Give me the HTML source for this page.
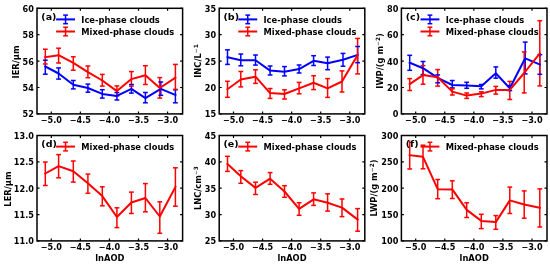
<!DOCTYPE html><html><head><meta charset="utf-8"><style>html,body{margin:0;padding:0;background:#fff;}svg{display:block;}text{font-family:"DejaVu Sans",sans-serif;font-weight:bold;}</style></head><body>
<svg width="550" height="265" viewBox="0 0 550 265">
<rect width="550" height="265" fill="#fff"/>
<g><line x1="45.3" y1="60.2" x2="45.3" y2="74.2" stroke="#0000ff" stroke-width="1.5"/><line x1="58.6" y1="67.9" x2="58.6" y2="79.1" stroke="#0000ff" stroke-width="1.5"/><line x1="73.3" y1="80.5" x2="73.3" y2="88.9" stroke="#0000ff" stroke-width="1.5"/><line x1="87.9" y1="84.1" x2="87.9" y2="92.2" stroke="#0000ff" stroke-width="1.5"/><line x1="102.3" y1="89.7" x2="102.3" y2="98.1" stroke="#0000ff" stroke-width="1.5"/><line x1="116.9" y1="92.5" x2="116.9" y2="100" stroke="#0000ff" stroke-width="1.5"/><line x1="131.4" y1="84.5" x2="131.4" y2="93.1" stroke="#0000ff" stroke-width="1.5"/><line x1="145.4" y1="92.5" x2="145.4" y2="102.8" stroke="#0000ff" stroke-width="1.5"/><line x1="160.8" y1="82" x2="160.8" y2="95.3" stroke="#0000ff" stroke-width="1.5"/><line x1="175.4" y1="89.7" x2="175.4" y2="102.8" stroke="#0000ff" stroke-width="1.5"/><line x1="45.3" y1="49.2" x2="45.3" y2="64" stroke="#ff0000" stroke-width="1.5"/><line x1="58.6" y1="48.2" x2="58.6" y2="63" stroke="#ff0000" stroke-width="1.5"/><line x1="73.3" y1="56.8" x2="73.3" y2="70.2" stroke="#ff0000" stroke-width="1.5"/><line x1="87.9" y1="66" x2="87.9" y2="77.7" stroke="#ff0000" stroke-width="1.5"/><line x1="102.3" y1="74.4" x2="102.3" y2="86.1" stroke="#ff0000" stroke-width="1.5"/><line x1="116.9" y1="85.9" x2="116.9" y2="95.9" stroke="#ff0000" stroke-width="1.5"/><line x1="131.4" y1="71.6" x2="131.4" y2="86.1" stroke="#ff0000" stroke-width="1.5"/><line x1="145.4" y1="65.7" x2="145.4" y2="84.5" stroke="#ff0000" stroke-width="1.5"/><line x1="159.8" y1="77.6" x2="159.8" y2="98.1" stroke="#ff0000" stroke-width="1.5"/><line x1="175.4" y1="64.4" x2="175.4" y2="89.4" stroke="#ff0000" stroke-width="1.5"/><line x1="42.9" y1="60.2" x2="47.7" y2="60.2" stroke="#0000ff" stroke-width="1.5"/><line x1="42.9" y1="74.2" x2="47.7" y2="74.2" stroke="#0000ff" stroke-width="1.5"/><line x1="56.2" y1="67.9" x2="61" y2="67.9" stroke="#0000ff" stroke-width="1.5"/><line x1="56.2" y1="79.1" x2="61" y2="79.1" stroke="#0000ff" stroke-width="1.5"/><line x1="70.9" y1="80.5" x2="75.7" y2="80.5" stroke="#0000ff" stroke-width="1.5"/><line x1="70.9" y1="88.9" x2="75.7" y2="88.9" stroke="#0000ff" stroke-width="1.5"/><line x1="85.5" y1="84.1" x2="90.3" y2="84.1" stroke="#0000ff" stroke-width="1.5"/><line x1="85.5" y1="92.2" x2="90.3" y2="92.2" stroke="#0000ff" stroke-width="1.5"/><line x1="99.9" y1="89.7" x2="104.7" y2="89.7" stroke="#0000ff" stroke-width="1.5"/><line x1="99.9" y1="98.1" x2="104.7" y2="98.1" stroke="#0000ff" stroke-width="1.5"/><line x1="114.5" y1="92.5" x2="119.3" y2="92.5" stroke="#0000ff" stroke-width="1.5"/><line x1="114.5" y1="100" x2="119.3" y2="100" stroke="#0000ff" stroke-width="1.5"/><line x1="129" y1="84.5" x2="133.8" y2="84.5" stroke="#0000ff" stroke-width="1.5"/><line x1="129" y1="93.1" x2="133.8" y2="93.1" stroke="#0000ff" stroke-width="1.5"/><line x1="143" y1="92.5" x2="147.8" y2="92.5" stroke="#0000ff" stroke-width="1.5"/><line x1="143" y1="102.8" x2="147.8" y2="102.8" stroke="#0000ff" stroke-width="1.5"/><line x1="158.4" y1="82" x2="163.2" y2="82" stroke="#0000ff" stroke-width="1.5"/><line x1="158.4" y1="95.3" x2="163.2" y2="95.3" stroke="#0000ff" stroke-width="1.5"/><line x1="173" y1="89.7" x2="177.8" y2="89.7" stroke="#0000ff" stroke-width="1.5"/><line x1="173" y1="102.8" x2="177.8" y2="102.8" stroke="#0000ff" stroke-width="1.5"/><line x1="42.9" y1="49.2" x2="47.7" y2="49.2" stroke="#ff0000" stroke-width="1.5"/><line x1="42.9" y1="64" x2="47.7" y2="64" stroke="#ff0000" stroke-width="1.5"/><line x1="56.2" y1="48.2" x2="61" y2="48.2" stroke="#ff0000" stroke-width="1.5"/><line x1="56.2" y1="63" x2="61" y2="63" stroke="#ff0000" stroke-width="1.5"/><line x1="70.9" y1="56.8" x2="75.7" y2="56.8" stroke="#ff0000" stroke-width="1.5"/><line x1="70.9" y1="70.2" x2="75.7" y2="70.2" stroke="#ff0000" stroke-width="1.5"/><line x1="85.5" y1="66" x2="90.3" y2="66" stroke="#ff0000" stroke-width="1.5"/><line x1="85.5" y1="77.7" x2="90.3" y2="77.7" stroke="#ff0000" stroke-width="1.5"/><line x1="99.9" y1="74.4" x2="104.7" y2="74.4" stroke="#ff0000" stroke-width="1.5"/><line x1="99.9" y1="86.1" x2="104.7" y2="86.1" stroke="#ff0000" stroke-width="1.5"/><line x1="114.5" y1="85.9" x2="119.3" y2="85.9" stroke="#ff0000" stroke-width="1.5"/><line x1="114.5" y1="95.9" x2="119.3" y2="95.9" stroke="#ff0000" stroke-width="1.5"/><line x1="129" y1="71.6" x2="133.8" y2="71.6" stroke="#ff0000" stroke-width="1.5"/><line x1="129" y1="86.1" x2="133.8" y2="86.1" stroke="#ff0000" stroke-width="1.5"/><line x1="143" y1="65.7" x2="147.8" y2="65.7" stroke="#ff0000" stroke-width="1.5"/><line x1="143" y1="84.5" x2="147.8" y2="84.5" stroke="#ff0000" stroke-width="1.5"/><line x1="157.4" y1="77.6" x2="162.2" y2="77.6" stroke="#ff0000" stroke-width="1.5"/><line x1="157.4" y1="98.1" x2="162.2" y2="98.1" stroke="#ff0000" stroke-width="1.5"/><line x1="173" y1="64.4" x2="177.8" y2="64.4" stroke="#ff0000" stroke-width="1.5"/><line x1="173" y1="89.4" x2="177.8" y2="89.4" stroke="#ff0000" stroke-width="1.5"/><polyline points="45.3,66.5 58.6,73.5 73.3,84.7 87.9,88 102.3,93.9 116.9,95.9 131.4,88.9 145.4,98.1 160.8,88.9 175.4,95" fill="none" stroke="#0000ff" stroke-width="2.0" stroke-linejoin="round" stroke-linecap="square"/><polyline points="45.3,57.2 58.6,55.2 73.3,62.9 87.9,72.1 102.3,80.5 116.9,91.1 131.4,79.1 145.4,75.2 159.8,88 175.4,77.6" fill="none" stroke="#ff0000" stroke-width="2.0" stroke-linejoin="round" stroke-linecap="square"/></g>
<rect x="37" y="8.3" width="145.6" height="105.6" fill="none" stroke="#000" stroke-width="1.5"/>
<text x="51.3" y="122.9" font-size="8.15" text-anchor="middle">−5.0</text>
<text x="80.37" y="122.9" font-size="8.15" text-anchor="middle">−4.5</text>
<text x="109.44" y="122.9" font-size="8.15" text-anchor="middle">−4.0</text>
<text x="138.51" y="122.9" font-size="8.15" text-anchor="middle">−3.5</text>
<text x="167.58" y="122.9" font-size="8.15" text-anchor="middle">−3.0</text>
<text x="33.9" y="117.3" font-size="8.15" text-anchor="end">52</text>
<text x="33.9" y="90.9" font-size="8.15" text-anchor="end">54</text>
<text x="33.9" y="64.5" font-size="8.15" text-anchor="end">56</text>
<text x="33.9" y="38.1" font-size="8.15" text-anchor="end">58</text>
<text x="33.9" y="11.7" font-size="8.15" text-anchor="end">60</text>
<path d="M51.3 113.9v-2.5M51.3 8.3v2.5M80.37 113.9v-2.5M80.37 8.3v2.5M109.44 113.9v-2.5M109.44 8.3v2.5M138.51 113.9v-2.5M138.51 8.3v2.5M167.58 113.9v-2.5M167.58 8.3v2.5M37 113.9h2.5M182.6 113.9h-2.5M37 87.5h2.5M182.6 87.5h-2.5M37 61.1h2.5M182.6 61.1h-2.5M37 34.7h2.5M182.6 34.7h-2.5M37 8.3h2.5M182.6 8.3h-2.5" stroke="#000" stroke-width="1.2" fill="none"/>
<text transform="translate(18.7,61.9) rotate(-90)" font-size="8.33" text-anchor="middle">IER/μm</text>
<text x="41.3" y="20" font-size="9.5">(a)</text>
<line x1="56.1" y1="19.4" x2="75" y2="19.4" stroke="#0000ff" stroke-width="2.0"/>
<line x1="65.55" y1="15.1" x2="65.55" y2="23.7" stroke="#0000ff" stroke-width="1.5"/>
<line x1="63.15" y1="15.1" x2="67.95" y2="15.1" stroke="#0000ff" stroke-width="1.5"/>
<line x1="63.15" y1="23.7" x2="67.95" y2="23.7" stroke="#0000ff" stroke-width="1.5"/>
<text x="81.3" y="23.1" font-size="8.33">Ice-phase clouds</text>
<line x1="56.1" y1="31.5" x2="75" y2="31.5" stroke="#ff0000" stroke-width="2.0"/>
<line x1="65.55" y1="27.2" x2="65.55" y2="35.8" stroke="#ff0000" stroke-width="1.5"/>
<line x1="63.15" y1="27.2" x2="67.95" y2="27.2" stroke="#ff0000" stroke-width="1.5"/>
<line x1="63.15" y1="35.8" x2="67.95" y2="35.8" stroke="#ff0000" stroke-width="1.5"/>
<text x="81.3" y="35.2" font-size="8.33">Mixed-phase clouds</text>
<g><line x1="227.5" y1="49.8" x2="227.5" y2="64.4" stroke="#0000ff" stroke-width="1.5"/><line x1="240.8" y1="54" x2="240.8" y2="65.8" stroke="#0000ff" stroke-width="1.5"/><line x1="255.5" y1="55" x2="255.5" y2="65.1" stroke="#0000ff" stroke-width="1.5"/><line x1="270.1" y1="66" x2="270.1" y2="75" stroke="#0000ff" stroke-width="1.5"/><line x1="284.5" y1="66.6" x2="284.5" y2="75.9" stroke="#0000ff" stroke-width="1.5"/><line x1="299.1" y1="65" x2="299.1" y2="73" stroke="#0000ff" stroke-width="1.5"/><line x1="313.6" y1="55.7" x2="313.6" y2="65.5" stroke="#0000ff" stroke-width="1.5"/><line x1="327.6" y1="57.1" x2="327.6" y2="69.7" stroke="#0000ff" stroke-width="1.5"/><line x1="343" y1="53.4" x2="343" y2="66.2" stroke="#0000ff" stroke-width="1.5"/><line x1="357.6" y1="46.5" x2="357.6" y2="62.7" stroke="#0000ff" stroke-width="1.5"/><line x1="227.5" y1="81.3" x2="227.5" y2="97.3" stroke="#ff0000" stroke-width="1.5"/><line x1="240.8" y1="71.5" x2="240.8" y2="86.9" stroke="#ff0000" stroke-width="1.5"/><line x1="255.5" y1="69.8" x2="255.5" y2="83.4" stroke="#ff0000" stroke-width="1.5"/><line x1="270.1" y1="88.5" x2="270.1" y2="98.4" stroke="#ff0000" stroke-width="1.5"/><line x1="284.5" y1="89.8" x2="284.5" y2="99" stroke="#ff0000" stroke-width="1.5"/><line x1="299.1" y1="82.4" x2="299.1" y2="93.8" stroke="#ff0000" stroke-width="1.5"/><line x1="313.6" y1="75.7" x2="313.6" y2="89.6" stroke="#ff0000" stroke-width="1.5"/><line x1="327.6" y1="78.6" x2="327.6" y2="97.4" stroke="#ff0000" stroke-width="1.5"/><line x1="342" y1="70.9" x2="342" y2="92" stroke="#ff0000" stroke-width="1.5"/><line x1="357.6" y1="38.4" x2="357.6" y2="73.9" stroke="#ff0000" stroke-width="1.5"/><line x1="225.1" y1="49.8" x2="229.9" y2="49.8" stroke="#0000ff" stroke-width="1.5"/><line x1="225.1" y1="64.4" x2="229.9" y2="64.4" stroke="#0000ff" stroke-width="1.5"/><line x1="238.4" y1="54" x2="243.2" y2="54" stroke="#0000ff" stroke-width="1.5"/><line x1="238.4" y1="65.8" x2="243.2" y2="65.8" stroke="#0000ff" stroke-width="1.5"/><line x1="253.1" y1="55" x2="257.9" y2="55" stroke="#0000ff" stroke-width="1.5"/><line x1="253.1" y1="65.1" x2="257.9" y2="65.1" stroke="#0000ff" stroke-width="1.5"/><line x1="267.7" y1="66" x2="272.5" y2="66" stroke="#0000ff" stroke-width="1.5"/><line x1="267.7" y1="75" x2="272.5" y2="75" stroke="#0000ff" stroke-width="1.5"/><line x1="282.1" y1="66.6" x2="286.9" y2="66.6" stroke="#0000ff" stroke-width="1.5"/><line x1="282.1" y1="75.9" x2="286.9" y2="75.9" stroke="#0000ff" stroke-width="1.5"/><line x1="296.7" y1="65" x2="301.5" y2="65" stroke="#0000ff" stroke-width="1.5"/><line x1="296.7" y1="73" x2="301.5" y2="73" stroke="#0000ff" stroke-width="1.5"/><line x1="311.2" y1="55.7" x2="316" y2="55.7" stroke="#0000ff" stroke-width="1.5"/><line x1="311.2" y1="65.5" x2="316" y2="65.5" stroke="#0000ff" stroke-width="1.5"/><line x1="325.2" y1="57.1" x2="330" y2="57.1" stroke="#0000ff" stroke-width="1.5"/><line x1="325.2" y1="69.7" x2="330" y2="69.7" stroke="#0000ff" stroke-width="1.5"/><line x1="340.6" y1="53.4" x2="345.4" y2="53.4" stroke="#0000ff" stroke-width="1.5"/><line x1="340.6" y1="66.2" x2="345.4" y2="66.2" stroke="#0000ff" stroke-width="1.5"/><line x1="355.2" y1="46.5" x2="360" y2="46.5" stroke="#0000ff" stroke-width="1.5"/><line x1="355.2" y1="62.7" x2="360" y2="62.7" stroke="#0000ff" stroke-width="1.5"/><line x1="225.1" y1="81.3" x2="229.9" y2="81.3" stroke="#ff0000" stroke-width="1.5"/><line x1="225.1" y1="97.3" x2="229.9" y2="97.3" stroke="#ff0000" stroke-width="1.5"/><line x1="238.4" y1="71.5" x2="243.2" y2="71.5" stroke="#ff0000" stroke-width="1.5"/><line x1="238.4" y1="86.9" x2="243.2" y2="86.9" stroke="#ff0000" stroke-width="1.5"/><line x1="253.1" y1="69.8" x2="257.9" y2="69.8" stroke="#ff0000" stroke-width="1.5"/><line x1="253.1" y1="83.4" x2="257.9" y2="83.4" stroke="#ff0000" stroke-width="1.5"/><line x1="267.7" y1="88.5" x2="272.5" y2="88.5" stroke="#ff0000" stroke-width="1.5"/><line x1="267.7" y1="98.4" x2="272.5" y2="98.4" stroke="#ff0000" stroke-width="1.5"/><line x1="282.1" y1="89.8" x2="286.9" y2="89.8" stroke="#ff0000" stroke-width="1.5"/><line x1="282.1" y1="99" x2="286.9" y2="99" stroke="#ff0000" stroke-width="1.5"/><line x1="296.7" y1="82.4" x2="301.5" y2="82.4" stroke="#ff0000" stroke-width="1.5"/><line x1="296.7" y1="93.8" x2="301.5" y2="93.8" stroke="#ff0000" stroke-width="1.5"/><line x1="311.2" y1="75.7" x2="316" y2="75.7" stroke="#ff0000" stroke-width="1.5"/><line x1="311.2" y1="89.6" x2="316" y2="89.6" stroke="#ff0000" stroke-width="1.5"/><line x1="325.2" y1="78.6" x2="330" y2="78.6" stroke="#ff0000" stroke-width="1.5"/><line x1="325.2" y1="97.4" x2="330" y2="97.4" stroke="#ff0000" stroke-width="1.5"/><line x1="339.6" y1="70.9" x2="344.4" y2="70.9" stroke="#ff0000" stroke-width="1.5"/><line x1="339.6" y1="92" x2="344.4" y2="92" stroke="#ff0000" stroke-width="1.5"/><line x1="355.2" y1="38.4" x2="360" y2="38.4" stroke="#ff0000" stroke-width="1.5"/><line x1="355.2" y1="73.9" x2="360" y2="73.9" stroke="#ff0000" stroke-width="1.5"/><polyline points="227.5,57.2 240.8,60.3 255.5,60.3 270.1,70.6 284.5,71.8 299.1,69.1 313.6,60.8 327.6,63.3 343,59.8 357.6,54.9" fill="none" stroke="#0000ff" stroke-width="2.0" stroke-linejoin="round" stroke-linecap="square"/><polyline points="227.5,89.2 240.8,79.5 255.5,76.7 270.1,93.1 284.5,94 299.1,88.4 313.6,82.8 327.6,88.4 342,81.5 357.6,55.2" fill="none" stroke="#ff0000" stroke-width="2.0" stroke-linejoin="round" stroke-linecap="square"/></g>
<rect x="219.2" y="8.3" width="145.6" height="105.6" fill="none" stroke="#000" stroke-width="1.5"/>
<text x="233.5" y="122.9" font-size="8.15" text-anchor="middle">−5.0</text>
<text x="262.57" y="122.9" font-size="8.15" text-anchor="middle">−4.5</text>
<text x="291.64" y="122.9" font-size="8.15" text-anchor="middle">−4.0</text>
<text x="320.71" y="122.9" font-size="8.15" text-anchor="middle">−3.5</text>
<text x="349.78" y="122.9" font-size="8.15" text-anchor="middle">−3.0</text>
<text x="216.1" y="117.3" font-size="8.15" text-anchor="end">15</text>
<text x="216.1" y="90.9" font-size="8.15" text-anchor="end">20</text>
<text x="216.1" y="64.5" font-size="8.15" text-anchor="end">25</text>
<text x="216.1" y="38.1" font-size="8.15" text-anchor="end">30</text>
<text x="216.1" y="11.7" font-size="8.15" text-anchor="end">35</text>
<path d="M233.5 113.9v-2.5M233.5 8.3v2.5M262.57 113.9v-2.5M262.57 8.3v2.5M291.64 113.9v-2.5M291.64 8.3v2.5M320.71 113.9v-2.5M320.71 8.3v2.5M349.78 113.9v-2.5M349.78 8.3v2.5M219.2 113.9h2.5M364.8 113.9h-2.5M219.2 87.5h2.5M364.8 87.5h-2.5M219.2 61.1h2.5M364.8 61.1h-2.5M219.2 34.7h2.5M364.8 34.7h-2.5M219.2 8.3h2.5M364.8 8.3h-2.5" stroke="#000" stroke-width="1.2" fill="none"/>
<text transform="translate(200.9,61) rotate(-90)" font-size="8.33" text-anchor="middle">INC/L<tspan baseline-shift="super" font-size="70%"><tspan font-weight="normal">−</tspan>1</tspan></text>
<text x="223.5" y="20" font-size="9.5">(b)</text>
<line x1="238.3" y1="19.4" x2="257.2" y2="19.4" stroke="#0000ff" stroke-width="2.0"/>
<line x1="247.75" y1="15.1" x2="247.75" y2="23.7" stroke="#0000ff" stroke-width="1.5"/>
<line x1="245.35" y1="15.1" x2="250.15" y2="15.1" stroke="#0000ff" stroke-width="1.5"/>
<line x1="245.35" y1="23.7" x2="250.15" y2="23.7" stroke="#0000ff" stroke-width="1.5"/>
<text x="263.5" y="23.1" font-size="8.33">Ice-phase clouds</text>
<line x1="238.3" y1="31.5" x2="257.2" y2="31.5" stroke="#ff0000" stroke-width="2.0"/>
<line x1="247.75" y1="27.2" x2="247.75" y2="35.8" stroke="#ff0000" stroke-width="1.5"/>
<line x1="245.35" y1="27.2" x2="250.15" y2="27.2" stroke="#ff0000" stroke-width="1.5"/>
<line x1="245.35" y1="35.8" x2="250.15" y2="35.8" stroke="#ff0000" stroke-width="1.5"/>
<text x="263.5" y="35.2" font-size="8.33">Mixed-phase clouds</text>
<g><line x1="409.7" y1="55.3" x2="409.7" y2="70.3" stroke="#0000ff" stroke-width="1.5"/><line x1="423" y1="61.5" x2="423" y2="74.6" stroke="#0000ff" stroke-width="1.5"/><line x1="437.7" y1="74.9" x2="437.7" y2="82.8" stroke="#0000ff" stroke-width="1.5"/><line x1="452.3" y1="80.5" x2="452.3" y2="87.9" stroke="#0000ff" stroke-width="1.5"/><line x1="466.7" y1="82.3" x2="466.7" y2="88.3" stroke="#0000ff" stroke-width="1.5"/><line x1="481.3" y1="84.5" x2="481.3" y2="88.9" stroke="#0000ff" stroke-width="1.5"/><line x1="495.8" y1="66.9" x2="495.8" y2="78.2" stroke="#0000ff" stroke-width="1.5"/><line x1="509.8" y1="85.5" x2="509.8" y2="90.6" stroke="#0000ff" stroke-width="1.5"/><line x1="525.2" y1="42.1" x2="525.2" y2="73.9" stroke="#0000ff" stroke-width="1.5"/><line x1="539.8" y1="54.7" x2="539.8" y2="74.3" stroke="#0000ff" stroke-width="1.5"/><line x1="409.7" y1="78.6" x2="409.7" y2="90.5" stroke="#ff0000" stroke-width="1.5"/><line x1="423" y1="65.6" x2="423" y2="84.2" stroke="#ff0000" stroke-width="1.5"/><line x1="437.7" y1="69.6" x2="437.7" y2="86.1" stroke="#ff0000" stroke-width="1.5"/><line x1="452.3" y1="88.8" x2="452.3" y2="95" stroke="#ff0000" stroke-width="1.5"/><line x1="466.7" y1="93" x2="466.7" y2="98.4" stroke="#ff0000" stroke-width="1.5"/><line x1="481.3" y1="91.8" x2="481.3" y2="96.6" stroke="#ff0000" stroke-width="1.5"/><line x1="495.8" y1="86.4" x2="495.8" y2="94.1" stroke="#ff0000" stroke-width="1.5"/><line x1="509.8" y1="81.4" x2="509.8" y2="99.5" stroke="#ff0000" stroke-width="1.5"/><line x1="524.2" y1="51.9" x2="524.2" y2="92.9" stroke="#ff0000" stroke-width="1.5"/><line x1="539.8" y1="20.7" x2="539.8" y2="85.9" stroke="#ff0000" stroke-width="1.5"/><line x1="407.3" y1="55.3" x2="412.1" y2="55.3" stroke="#0000ff" stroke-width="1.5"/><line x1="407.3" y1="70.3" x2="412.1" y2="70.3" stroke="#0000ff" stroke-width="1.5"/><line x1="420.6" y1="61.5" x2="425.4" y2="61.5" stroke="#0000ff" stroke-width="1.5"/><line x1="420.6" y1="74.6" x2="425.4" y2="74.6" stroke="#0000ff" stroke-width="1.5"/><line x1="435.3" y1="74.9" x2="440.1" y2="74.9" stroke="#0000ff" stroke-width="1.5"/><line x1="435.3" y1="82.8" x2="440.1" y2="82.8" stroke="#0000ff" stroke-width="1.5"/><line x1="449.9" y1="80.5" x2="454.7" y2="80.5" stroke="#0000ff" stroke-width="1.5"/><line x1="449.9" y1="87.9" x2="454.7" y2="87.9" stroke="#0000ff" stroke-width="1.5"/><line x1="464.3" y1="82.3" x2="469.1" y2="82.3" stroke="#0000ff" stroke-width="1.5"/><line x1="464.3" y1="88.3" x2="469.1" y2="88.3" stroke="#0000ff" stroke-width="1.5"/><line x1="478.9" y1="84.5" x2="483.7" y2="84.5" stroke="#0000ff" stroke-width="1.5"/><line x1="478.9" y1="88.9" x2="483.7" y2="88.9" stroke="#0000ff" stroke-width="1.5"/><line x1="493.4" y1="66.9" x2="498.2" y2="66.9" stroke="#0000ff" stroke-width="1.5"/><line x1="493.4" y1="78.2" x2="498.2" y2="78.2" stroke="#0000ff" stroke-width="1.5"/><line x1="507.4" y1="85.5" x2="512.2" y2="85.5" stroke="#0000ff" stroke-width="1.5"/><line x1="507.4" y1="90.6" x2="512.2" y2="90.6" stroke="#0000ff" stroke-width="1.5"/><line x1="522.8" y1="42.1" x2="527.6" y2="42.1" stroke="#0000ff" stroke-width="1.5"/><line x1="522.8" y1="73.9" x2="527.6" y2="73.9" stroke="#0000ff" stroke-width="1.5"/><line x1="537.4" y1="54.7" x2="542.2" y2="54.7" stroke="#0000ff" stroke-width="1.5"/><line x1="537.4" y1="74.3" x2="542.2" y2="74.3" stroke="#0000ff" stroke-width="1.5"/><line x1="407.3" y1="78.6" x2="412.1" y2="78.6" stroke="#ff0000" stroke-width="1.5"/><line x1="407.3" y1="90.5" x2="412.1" y2="90.5" stroke="#ff0000" stroke-width="1.5"/><line x1="420.6" y1="65.6" x2="425.4" y2="65.6" stroke="#ff0000" stroke-width="1.5"/><line x1="420.6" y1="84.2" x2="425.4" y2="84.2" stroke="#ff0000" stroke-width="1.5"/><line x1="435.3" y1="69.6" x2="440.1" y2="69.6" stroke="#ff0000" stroke-width="1.5"/><line x1="435.3" y1="86.1" x2="440.1" y2="86.1" stroke="#ff0000" stroke-width="1.5"/><line x1="449.9" y1="88.8" x2="454.7" y2="88.8" stroke="#ff0000" stroke-width="1.5"/><line x1="449.9" y1="95" x2="454.7" y2="95" stroke="#ff0000" stroke-width="1.5"/><line x1="464.3" y1="93" x2="469.1" y2="93" stroke="#ff0000" stroke-width="1.5"/><line x1="464.3" y1="98.4" x2="469.1" y2="98.4" stroke="#ff0000" stroke-width="1.5"/><line x1="478.9" y1="91.8" x2="483.7" y2="91.8" stroke="#ff0000" stroke-width="1.5"/><line x1="478.9" y1="96.6" x2="483.7" y2="96.6" stroke="#ff0000" stroke-width="1.5"/><line x1="493.4" y1="86.4" x2="498.2" y2="86.4" stroke="#ff0000" stroke-width="1.5"/><line x1="493.4" y1="94.1" x2="498.2" y2="94.1" stroke="#ff0000" stroke-width="1.5"/><line x1="507.4" y1="81.4" x2="512.2" y2="81.4" stroke="#ff0000" stroke-width="1.5"/><line x1="507.4" y1="99.5" x2="512.2" y2="99.5" stroke="#ff0000" stroke-width="1.5"/><line x1="521.8" y1="51.9" x2="526.6" y2="51.9" stroke="#ff0000" stroke-width="1.5"/><line x1="521.8" y1="92.9" x2="526.6" y2="92.9" stroke="#ff0000" stroke-width="1.5"/><line x1="537.4" y1="20.7" x2="542.2" y2="20.7" stroke="#ff0000" stroke-width="1.5"/><line x1="537.4" y1="85.9" x2="542.2" y2="85.9" stroke="#ff0000" stroke-width="1.5"/><polyline points="409.7,62.8 423,68.2 437.7,77.9 452.3,85 466.7,85.6 481.3,86.2 495.8,73.2 509.8,88.3 525.2,58.3 539.8,64.5" fill="none" stroke="#0000ff" stroke-width="2.0" stroke-linejoin="round" stroke-linecap="square"/><polyline points="409.7,84.2 423,75.1 437.7,77.2 452.3,91.6 466.7,95.6 481.3,93.6 495.8,89.9 509.8,89.9 524.2,73 539.8,53.3" fill="none" stroke="#ff0000" stroke-width="2.0" stroke-linejoin="round" stroke-linecap="square"/></g>
<rect x="401.4" y="8.3" width="145.6" height="105.6" fill="none" stroke="#000" stroke-width="1.5"/>
<text x="415.7" y="122.9" font-size="8.15" text-anchor="middle">−5.0</text>
<text x="444.77" y="122.9" font-size="8.15" text-anchor="middle">−4.5</text>
<text x="473.84" y="122.9" font-size="8.15" text-anchor="middle">−4.0</text>
<text x="502.91" y="122.9" font-size="8.15" text-anchor="middle">−3.5</text>
<text x="531.98" y="122.9" font-size="8.15" text-anchor="middle">−3.0</text>
<text x="398.3" y="117.3" font-size="8.15" text-anchor="end">0</text>
<text x="398.3" y="90.9" font-size="8.15" text-anchor="end">20</text>
<text x="398.3" y="64.5" font-size="8.15" text-anchor="end">40</text>
<text x="398.3" y="38.1" font-size="8.15" text-anchor="end">60</text>
<text x="398.3" y="11.7" font-size="8.15" text-anchor="end">80</text>
<path d="M415.7 113.9v-2.5M415.7 8.3v2.5M444.77 113.9v-2.5M444.77 8.3v2.5M473.84 113.9v-2.5M473.84 8.3v2.5M502.91 113.9v-2.5M502.91 8.3v2.5M531.98 113.9v-2.5M531.98 8.3v2.5M401.4 113.9h2.5M547 113.9h-2.5M401.4 87.5h2.5M547 87.5h-2.5M401.4 61.1h2.5M547 61.1h-2.5M401.4 34.7h2.5M547 34.7h-2.5M401.4 8.3h2.5M547 8.3h-2.5" stroke="#000" stroke-width="1.2" fill="none"/>
<text transform="translate(383.1,60.9) rotate(-90)" font-size="8.33" text-anchor="middle">IWP/(g m<tspan baseline-shift="super" font-size="70%"><tspan font-weight="normal">−</tspan>2</tspan>)</text>
<text x="405.7" y="20" font-size="9.5">(c)</text>
<line x1="420.5" y1="19.4" x2="439.4" y2="19.4" stroke="#0000ff" stroke-width="2.0"/>
<line x1="429.95" y1="15.1" x2="429.95" y2="23.7" stroke="#0000ff" stroke-width="1.5"/>
<line x1="427.55" y1="15.1" x2="432.35" y2="15.1" stroke="#0000ff" stroke-width="1.5"/>
<line x1="427.55" y1="23.7" x2="432.35" y2="23.7" stroke="#0000ff" stroke-width="1.5"/>
<text x="445.7" y="23.1" font-size="8.33">Ice-phase clouds</text>
<line x1="420.5" y1="31.5" x2="439.4" y2="31.5" stroke="#ff0000" stroke-width="2.0"/>
<line x1="429.95" y1="27.2" x2="429.95" y2="35.8" stroke="#ff0000" stroke-width="1.5"/>
<line x1="427.55" y1="27.2" x2="432.35" y2="27.2" stroke="#ff0000" stroke-width="1.5"/>
<line x1="427.55" y1="35.8" x2="432.35" y2="35.8" stroke="#ff0000" stroke-width="1.5"/>
<text x="445.7" y="35.2" font-size="8.33">Mixed-phase clouds</text>
<g><line x1="45.3" y1="162" x2="45.3" y2="185.5" stroke="#ff0000" stroke-width="1.5"/><line x1="58.6" y1="154.6" x2="58.6" y2="177.8" stroke="#ff0000" stroke-width="1.5"/><line x1="73.3" y1="161" x2="73.3" y2="182.1" stroke="#ff0000" stroke-width="1.5"/><line x1="87.9" y1="174.1" x2="87.9" y2="193.3" stroke="#ff0000" stroke-width="1.5"/><line x1="102.3" y1="186.8" x2="102.3" y2="205.8" stroke="#ff0000" stroke-width="1.5"/><line x1="116.9" y1="207.8" x2="116.9" y2="227.6" stroke="#ff0000" stroke-width="1.5"/><line x1="131.4" y1="192.1" x2="131.4" y2="213.5" stroke="#ff0000" stroke-width="1.5"/><line x1="145.4" y1="183.6" x2="145.4" y2="211.8" stroke="#ff0000" stroke-width="1.5"/><line x1="159.8" y1="201.8" x2="159.8" y2="233.3" stroke="#ff0000" stroke-width="1.5"/><line x1="175.4" y1="167.8" x2="175.4" y2="206.2" stroke="#ff0000" stroke-width="1.5"/><line x1="42.9" y1="162" x2="47.7" y2="162" stroke="#ff0000" stroke-width="1.5"/><line x1="42.9" y1="185.5" x2="47.7" y2="185.5" stroke="#ff0000" stroke-width="1.5"/><line x1="56.2" y1="154.6" x2="61" y2="154.6" stroke="#ff0000" stroke-width="1.5"/><line x1="56.2" y1="177.8" x2="61" y2="177.8" stroke="#ff0000" stroke-width="1.5"/><line x1="70.9" y1="161" x2="75.7" y2="161" stroke="#ff0000" stroke-width="1.5"/><line x1="70.9" y1="182.1" x2="75.7" y2="182.1" stroke="#ff0000" stroke-width="1.5"/><line x1="85.5" y1="174.1" x2="90.3" y2="174.1" stroke="#ff0000" stroke-width="1.5"/><line x1="85.5" y1="193.3" x2="90.3" y2="193.3" stroke="#ff0000" stroke-width="1.5"/><line x1="99.9" y1="186.8" x2="104.7" y2="186.8" stroke="#ff0000" stroke-width="1.5"/><line x1="99.9" y1="205.8" x2="104.7" y2="205.8" stroke="#ff0000" stroke-width="1.5"/><line x1="114.5" y1="207.8" x2="119.3" y2="207.8" stroke="#ff0000" stroke-width="1.5"/><line x1="114.5" y1="227.6" x2="119.3" y2="227.6" stroke="#ff0000" stroke-width="1.5"/><line x1="129" y1="192.1" x2="133.8" y2="192.1" stroke="#ff0000" stroke-width="1.5"/><line x1="129" y1="213.5" x2="133.8" y2="213.5" stroke="#ff0000" stroke-width="1.5"/><line x1="143" y1="183.6" x2="147.8" y2="183.6" stroke="#ff0000" stroke-width="1.5"/><line x1="143" y1="211.8" x2="147.8" y2="211.8" stroke="#ff0000" stroke-width="1.5"/><line x1="157.4" y1="201.8" x2="162.2" y2="201.8" stroke="#ff0000" stroke-width="1.5"/><line x1="157.4" y1="233.3" x2="162.2" y2="233.3" stroke="#ff0000" stroke-width="1.5"/><line x1="173" y1="167.8" x2="177.8" y2="167.8" stroke="#ff0000" stroke-width="1.5"/><line x1="173" y1="206.2" x2="177.8" y2="206.2" stroke="#ff0000" stroke-width="1.5"/><polyline points="45.3,173.5 58.6,166.1 73.3,171.2 87.9,183.2 102.3,196.1 116.9,217 131.4,202.5 145.4,198 159.8,216.5 175.4,187" fill="none" stroke="#ff0000" stroke-width="2.0" stroke-linejoin="round" stroke-linecap="square"/></g>
<rect x="37" y="135.5" width="145.6" height="105.4" fill="none" stroke="#000" stroke-width="1.5"/>
<text x="51.3" y="249.9" font-size="8.15" text-anchor="middle">−5.0</text>
<text x="80.37" y="249.9" font-size="8.15" text-anchor="middle">−4.5</text>
<text x="109.44" y="249.9" font-size="8.15" text-anchor="middle">−4.0</text>
<text x="138.51" y="249.9" font-size="8.15" text-anchor="middle">−3.5</text>
<text x="167.58" y="249.9" font-size="8.15" text-anchor="middle">−3.0</text>
<text x="33.9" y="244.3" font-size="8.15" text-anchor="end">11.0</text>
<text x="33.9" y="217.95" font-size="8.15" text-anchor="end">11.5</text>
<text x="33.9" y="191.6" font-size="8.15" text-anchor="end">12.0</text>
<text x="33.9" y="165.25" font-size="8.15" text-anchor="end">12.5</text>
<text x="33.9" y="138.9" font-size="8.15" text-anchor="end">13.0</text>
<path d="M51.3 240.9v-2.5M51.3 135.5v2.5M80.37 240.9v-2.5M80.37 135.5v2.5M109.44 240.9v-2.5M109.44 135.5v2.5M138.51 240.9v-2.5M138.51 135.5v2.5M167.58 240.9v-2.5M167.58 135.5v2.5M37 240.9h2.5M182.6 240.9h-2.5M37 214.55h2.5M182.6 214.55h-2.5M37 188.2h2.5M182.6 188.2h-2.5M37 161.85h2.5M182.6 161.85h-2.5M37 135.5h2.5M182.6 135.5h-2.5" stroke="#000" stroke-width="1.2" fill="none"/>
<text transform="translate(11.2,189) rotate(-90)" font-size="8.33" text-anchor="middle">LER/μm</text>
<text x="41.3" y="147.2" font-size="9.5">(d)</text>
<line x1="56.1" y1="146.6" x2="75" y2="146.6" stroke="#ff0000" stroke-width="2.0"/>
<line x1="65.55" y1="142.3" x2="65.55" y2="150.9" stroke="#ff0000" stroke-width="1.5"/>
<line x1="63.15" y1="142.3" x2="67.95" y2="142.3" stroke="#ff0000" stroke-width="1.5"/>
<line x1="63.15" y1="150.9" x2="67.95" y2="150.9" stroke="#ff0000" stroke-width="1.5"/>
<text x="81.3" y="150.3" font-size="8.33">Mixed-phase clouds</text>
<text x="109.8" y="260.9" font-size="8.33" text-anchor="middle">lnAOD</text>
<g><line x1="227.5" y1="156.3" x2="227.5" y2="171.4" stroke="#ff0000" stroke-width="1.5"/><line x1="240.8" y1="170.6" x2="240.8" y2="183.3" stroke="#ff0000" stroke-width="1.5"/><line x1="255.5" y1="182.2" x2="255.5" y2="194.5" stroke="#ff0000" stroke-width="1.5"/><line x1="270.1" y1="172.6" x2="270.1" y2="184.3" stroke="#ff0000" stroke-width="1.5"/><line x1="284.5" y1="185.7" x2="284.5" y2="197.3" stroke="#ff0000" stroke-width="1.5"/><line x1="299.1" y1="202.7" x2="299.1" y2="215.3" stroke="#ff0000" stroke-width="1.5"/><line x1="313.6" y1="192.9" x2="313.6" y2="205.4" stroke="#ff0000" stroke-width="1.5"/><line x1="327.6" y1="193.8" x2="327.6" y2="211.1" stroke="#ff0000" stroke-width="1.5"/><line x1="342" y1="199" x2="342" y2="216.6" stroke="#ff0000" stroke-width="1.5"/><line x1="357.6" y1="208.6" x2="357.6" y2="231.2" stroke="#ff0000" stroke-width="1.5"/><line x1="225.1" y1="156.3" x2="229.9" y2="156.3" stroke="#ff0000" stroke-width="1.5"/><line x1="225.1" y1="171.4" x2="229.9" y2="171.4" stroke="#ff0000" stroke-width="1.5"/><line x1="238.4" y1="170.6" x2="243.2" y2="170.6" stroke="#ff0000" stroke-width="1.5"/><line x1="238.4" y1="183.3" x2="243.2" y2="183.3" stroke="#ff0000" stroke-width="1.5"/><line x1="253.1" y1="182.2" x2="257.9" y2="182.2" stroke="#ff0000" stroke-width="1.5"/><line x1="253.1" y1="194.5" x2="257.9" y2="194.5" stroke="#ff0000" stroke-width="1.5"/><line x1="267.7" y1="172.6" x2="272.5" y2="172.6" stroke="#ff0000" stroke-width="1.5"/><line x1="267.7" y1="184.3" x2="272.5" y2="184.3" stroke="#ff0000" stroke-width="1.5"/><line x1="282.1" y1="185.7" x2="286.9" y2="185.7" stroke="#ff0000" stroke-width="1.5"/><line x1="282.1" y1="197.3" x2="286.9" y2="197.3" stroke="#ff0000" stroke-width="1.5"/><line x1="296.7" y1="202.7" x2="301.5" y2="202.7" stroke="#ff0000" stroke-width="1.5"/><line x1="296.7" y1="215.3" x2="301.5" y2="215.3" stroke="#ff0000" stroke-width="1.5"/><line x1="311.2" y1="192.9" x2="316" y2="192.9" stroke="#ff0000" stroke-width="1.5"/><line x1="311.2" y1="205.4" x2="316" y2="205.4" stroke="#ff0000" stroke-width="1.5"/><line x1="325.2" y1="193.8" x2="330" y2="193.8" stroke="#ff0000" stroke-width="1.5"/><line x1="325.2" y1="211.1" x2="330" y2="211.1" stroke="#ff0000" stroke-width="1.5"/><line x1="339.6" y1="199" x2="344.4" y2="199" stroke="#ff0000" stroke-width="1.5"/><line x1="339.6" y1="216.6" x2="344.4" y2="216.6" stroke="#ff0000" stroke-width="1.5"/><line x1="355.2" y1="208.6" x2="360" y2="208.6" stroke="#ff0000" stroke-width="1.5"/><line x1="355.2" y1="231.2" x2="360" y2="231.2" stroke="#ff0000" stroke-width="1.5"/><polyline points="227.5,164 240.8,176.3 255.5,187.9 270.1,178.7 284.5,191.5 299.1,208.9 313.6,199.3 327.6,202.7 342,207.6 357.6,219.5" fill="none" stroke="#ff0000" stroke-width="2.0" stroke-linejoin="round" stroke-linecap="square"/></g>
<rect x="219.2" y="135.5" width="145.6" height="105.4" fill="none" stroke="#000" stroke-width="1.5"/>
<text x="233.5" y="249.9" font-size="8.15" text-anchor="middle">−5.0</text>
<text x="262.57" y="249.9" font-size="8.15" text-anchor="middle">−4.5</text>
<text x="291.64" y="249.9" font-size="8.15" text-anchor="middle">−4.0</text>
<text x="320.71" y="249.9" font-size="8.15" text-anchor="middle">−3.5</text>
<text x="349.78" y="249.9" font-size="8.15" text-anchor="middle">−3.0</text>
<text x="216.1" y="244.3" font-size="8.15" text-anchor="end">25</text>
<text x="216.1" y="217.95" font-size="8.15" text-anchor="end">30</text>
<text x="216.1" y="191.6" font-size="8.15" text-anchor="end">35</text>
<text x="216.1" y="165.25" font-size="8.15" text-anchor="end">40</text>
<text x="216.1" y="138.9" font-size="8.15" text-anchor="end">45</text>
<path d="M233.5 240.9v-2.5M233.5 135.5v2.5M262.57 240.9v-2.5M262.57 135.5v2.5M291.64 240.9v-2.5M291.64 135.5v2.5M320.71 240.9v-2.5M320.71 135.5v2.5M349.78 240.9v-2.5M349.78 135.5v2.5M219.2 240.9h2.5M364.8 240.9h-2.5M219.2 214.55h2.5M364.8 214.55h-2.5M219.2 188.2h2.5M364.8 188.2h-2.5M219.2 161.85h2.5M364.8 161.85h-2.5M219.2 135.5h2.5M364.8 135.5h-2.5" stroke="#000" stroke-width="1.2" fill="none"/>
<text transform="translate(200.9,188.1) rotate(-90)" font-size="8.33" text-anchor="middle">LNC/cm<tspan baseline-shift="super" font-size="70%"><tspan font-weight="normal">−</tspan>3</tspan></text>
<text x="223.5" y="147.2" font-size="9.5">(e)</text>
<line x1="238.3" y1="146.6" x2="257.2" y2="146.6" stroke="#ff0000" stroke-width="2.0"/>
<line x1="247.75" y1="142.3" x2="247.75" y2="150.9" stroke="#ff0000" stroke-width="1.5"/>
<line x1="245.35" y1="142.3" x2="250.15" y2="142.3" stroke="#ff0000" stroke-width="1.5"/>
<line x1="245.35" y1="150.9" x2="250.15" y2="150.9" stroke="#ff0000" stroke-width="1.5"/>
<text x="263.5" y="150.3" font-size="8.33">Mixed-phase clouds</text>
<text x="292" y="260.9" font-size="8.33" text-anchor="middle">lnAOD</text>
<g><line x1="409.7" y1="140.4" x2="409.7" y2="169" stroke="#ff0000" stroke-width="1.5"/><line x1="423" y1="145.2" x2="423" y2="168.8" stroke="#ff0000" stroke-width="1.5"/><line x1="437.7" y1="179.5" x2="437.7" y2="198.7" stroke="#ff0000" stroke-width="1.5"/><line x1="452.3" y1="180.8" x2="452.3" y2="198.5" stroke="#ff0000" stroke-width="1.5"/><line x1="466.7" y1="202.8" x2="466.7" y2="217.5" stroke="#ff0000" stroke-width="1.5"/><line x1="481.3" y1="214.3" x2="481.3" y2="228.6" stroke="#ff0000" stroke-width="1.5"/><line x1="495.8" y1="215.6" x2="495.8" y2="229.3" stroke="#ff0000" stroke-width="1.5"/><line x1="509.8" y1="187.1" x2="509.8" y2="213.5" stroke="#ff0000" stroke-width="1.5"/><line x1="524.2" y1="190.9" x2="524.2" y2="218.2" stroke="#ff0000" stroke-width="1.5"/><line x1="539.8" y1="188.9" x2="539.8" y2="227" stroke="#ff0000" stroke-width="1.5"/><line x1="407.3" y1="169" x2="412.1" y2="169" stroke="#ff0000" stroke-width="1.5"/><line x1="420.6" y1="145.2" x2="425.4" y2="145.2" stroke="#ff0000" stroke-width="1.5"/><line x1="420.6" y1="168.8" x2="425.4" y2="168.8" stroke="#ff0000" stroke-width="1.5"/><line x1="435.3" y1="179.5" x2="440.1" y2="179.5" stroke="#ff0000" stroke-width="1.5"/><line x1="435.3" y1="198.7" x2="440.1" y2="198.7" stroke="#ff0000" stroke-width="1.5"/><line x1="449.9" y1="180.8" x2="454.7" y2="180.8" stroke="#ff0000" stroke-width="1.5"/><line x1="449.9" y1="198.5" x2="454.7" y2="198.5" stroke="#ff0000" stroke-width="1.5"/><line x1="464.3" y1="202.8" x2="469.1" y2="202.8" stroke="#ff0000" stroke-width="1.5"/><line x1="464.3" y1="217.5" x2="469.1" y2="217.5" stroke="#ff0000" stroke-width="1.5"/><line x1="478.9" y1="214.3" x2="483.7" y2="214.3" stroke="#ff0000" stroke-width="1.5"/><line x1="478.9" y1="228.6" x2="483.7" y2="228.6" stroke="#ff0000" stroke-width="1.5"/><line x1="493.4" y1="215.6" x2="498.2" y2="215.6" stroke="#ff0000" stroke-width="1.5"/><line x1="493.4" y1="229.3" x2="498.2" y2="229.3" stroke="#ff0000" stroke-width="1.5"/><line x1="507.4" y1="187.1" x2="512.2" y2="187.1" stroke="#ff0000" stroke-width="1.5"/><line x1="507.4" y1="213.5" x2="512.2" y2="213.5" stroke="#ff0000" stroke-width="1.5"/><line x1="521.8" y1="190.9" x2="526.6" y2="190.9" stroke="#ff0000" stroke-width="1.5"/><line x1="521.8" y1="218.2" x2="526.6" y2="218.2" stroke="#ff0000" stroke-width="1.5"/><line x1="537.4" y1="188.9" x2="542.2" y2="188.9" stroke="#ff0000" stroke-width="1.5"/><line x1="537.4" y1="227" x2="542.2" y2="227" stroke="#ff0000" stroke-width="1.5"/><polyline points="409.7,155.2 423,156.8 437.7,189.2 452.3,189.4 466.7,209.9 481.3,220.9 495.8,222.1 509.8,200.4 524.2,204.5 539.8,207.7" fill="none" stroke="#ff0000" stroke-width="2.0" stroke-linejoin="round" stroke-linecap="square"/></g>
<rect x="401.4" y="135.5" width="145.6" height="105.4" fill="none" stroke="#000" stroke-width="1.5"/>
<text x="415.7" y="249.9" font-size="8.15" text-anchor="middle">−5.0</text>
<text x="444.77" y="249.9" font-size="8.15" text-anchor="middle">−4.5</text>
<text x="473.84" y="249.9" font-size="8.15" text-anchor="middle">−4.0</text>
<text x="502.91" y="249.9" font-size="8.15" text-anchor="middle">−3.5</text>
<text x="531.98" y="249.9" font-size="8.15" text-anchor="middle">−3.0</text>
<text x="398.3" y="244.3" font-size="8.15" text-anchor="end">100</text>
<text x="398.3" y="217.95" font-size="8.15" text-anchor="end">150</text>
<text x="398.3" y="191.6" font-size="8.15" text-anchor="end">200</text>
<text x="398.3" y="165.25" font-size="8.15" text-anchor="end">250</text>
<text x="398.3" y="138.9" font-size="8.15" text-anchor="end">300</text>
<path d="M415.7 240.9v-2.5M415.7 135.5v2.5M444.77 240.9v-2.5M444.77 135.5v2.5M473.84 240.9v-2.5M473.84 135.5v2.5M502.91 240.9v-2.5M502.91 135.5v2.5M531.98 240.9v-2.5M531.98 135.5v2.5M401.4 240.9h2.5M547 240.9h-2.5M401.4 214.55h2.5M547 214.55h-2.5M401.4 188.2h2.5M547 188.2h-2.5M401.4 161.85h2.5M547 161.85h-2.5M401.4 135.5h2.5M547 135.5h-2.5" stroke="#000" stroke-width="1.2" fill="none"/>
<text transform="translate(377.1,188) rotate(-90)" font-size="8.33" text-anchor="middle">LWP/(g m<tspan baseline-shift="super" font-size="70%"><tspan font-weight="normal">−</tspan>2</tspan>)</text>
<text x="405.7" y="147.2" font-size="9.5">(f)</text>
<line x1="420.5" y1="146.6" x2="439.4" y2="146.6" stroke="#ff0000" stroke-width="2.0"/>
<line x1="429.95" y1="142.3" x2="429.95" y2="150.9" stroke="#ff0000" stroke-width="1.5"/>
<line x1="427.55" y1="142.3" x2="432.35" y2="142.3" stroke="#ff0000" stroke-width="1.5"/>
<line x1="427.55" y1="150.9" x2="432.35" y2="150.9" stroke="#ff0000" stroke-width="1.5"/>
<text x="445.7" y="150.3" font-size="8.33">Mixed-phase clouds</text>
<text x="474.2" y="260.9" font-size="8.33" text-anchor="middle">lnAOD</text>
</svg></body></html>
